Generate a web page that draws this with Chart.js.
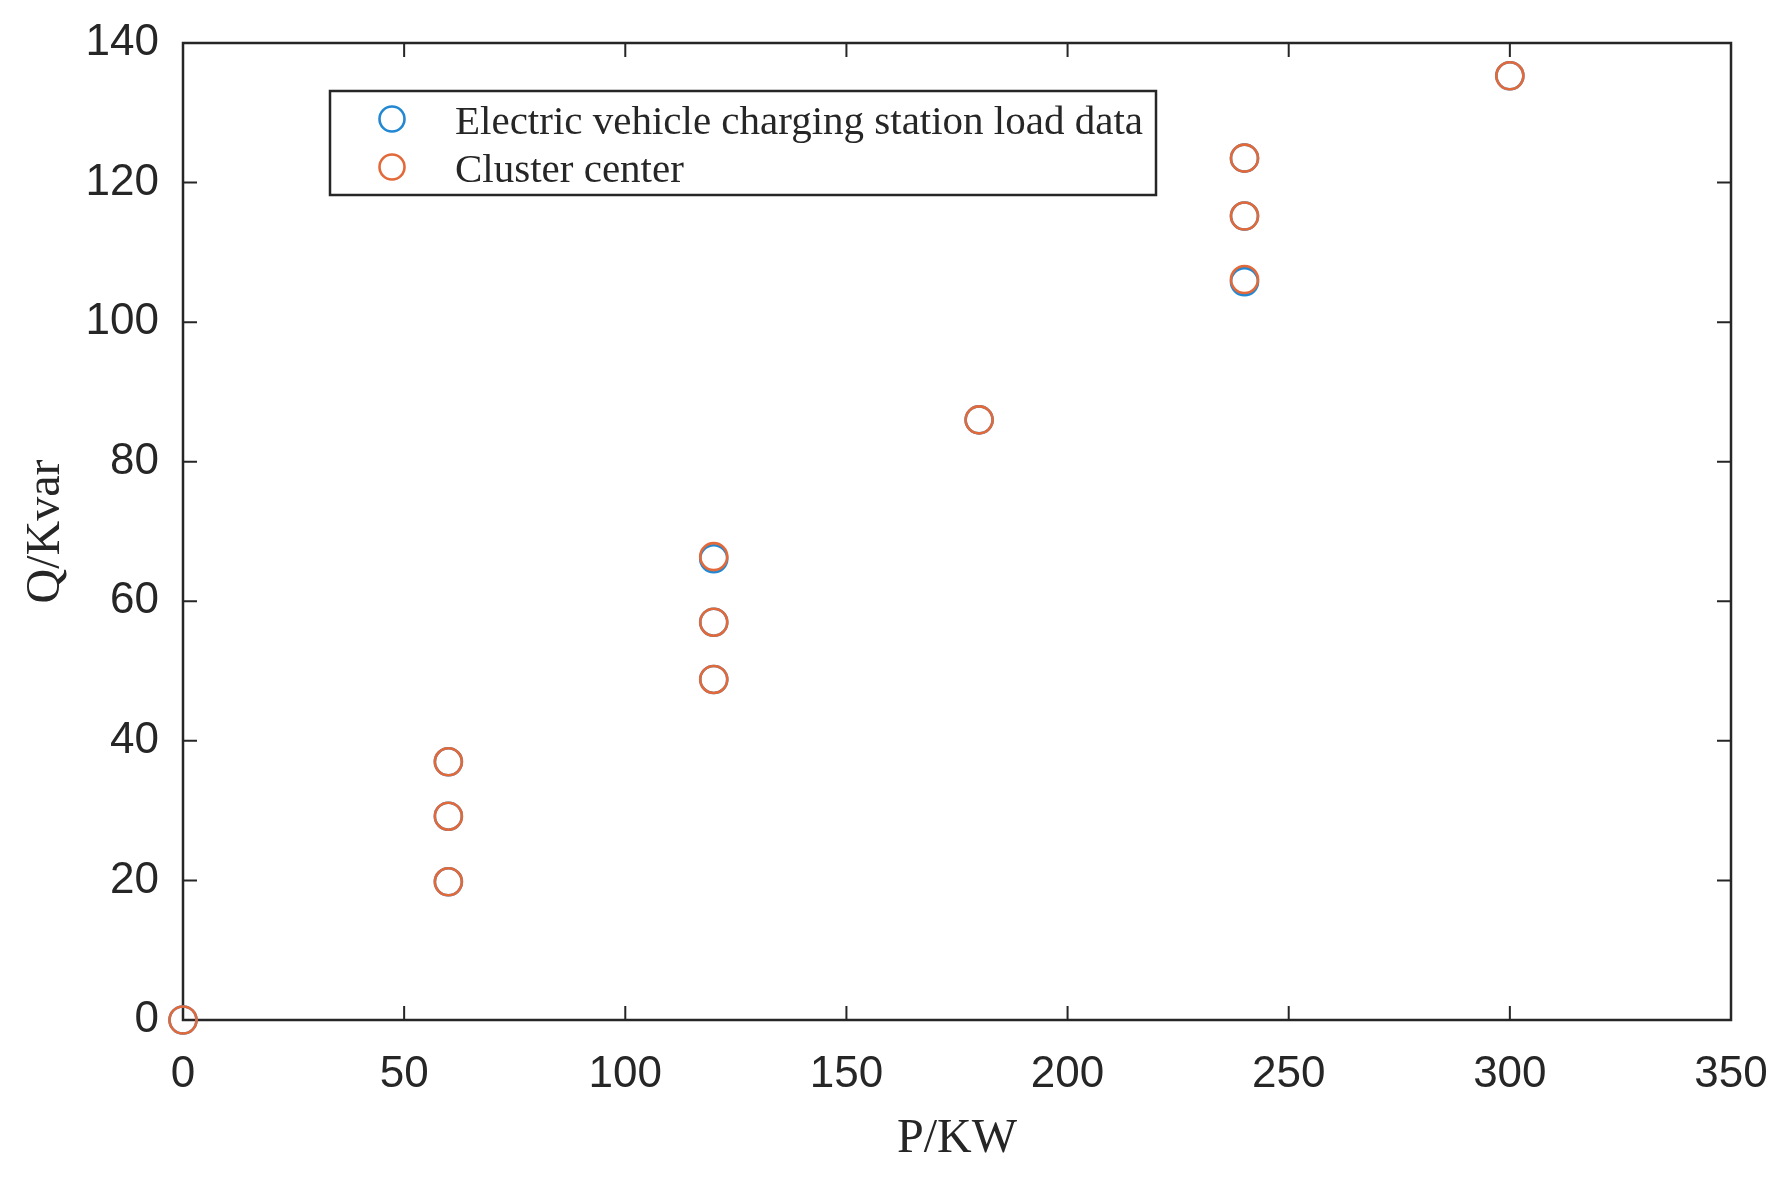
<!DOCTYPE html>
<html>
<head>
<meta charset="utf-8">
<script src="https://cdn.jsdelivr.net/npm/chart.js@4.4.0/dist/chart.umd.min.js"></script>
<style>
  html, body { margin: 0; padding: 0; background: #fff; }
  #wrap { width: 1788px; height: 1187px; }
</style>
</head>
<body>
<div id="wrap"><canvas id="scatterChart" width="1788" height="1187"></canvas></div>
<script>
// values
var pValues = [0, 60, 60, 60, 120, 120, 120, 180, 240, 240, 240, 300];
var loadQ = [0, 19.8, 29.2, 37.0, 48.8, 57.0, 66.1, 86.0, 105.8, 115.2, 123.5, 135.3];
var centerQ = [0, 19.8, 29.2, 37.0, 48.8, 57.0, 66.4, 86.0, 106.1, 115.2, 123.5, 135.3];
var xTicks = [0, 50, 100, 150, 200, 250, 300, 350];
var yTicks = [0, 20, 40, 60, 80, 100, 120, 140];
var seriesNames = ['Electric vehicle charging station load data', 'Cluster center'];

var axisColor = '#262626';
var blue = '#2388d2';
var orange = '#e2693a';

function toPoints(xs, ys) {
  var pts = [];
  for (var i = 0; i < xs.length; i++) pts.push({ x: xs[i], y: ys[i] });
  return pts;
}

// box round the plot plus inward tick marks on all four sides
var axesBox = {
  id: 'axesBox',
  beforeDatasetsDraw: function (chart) {
    var ctx = chart.ctx, a = chart.chartArea;
    var xs = chart.scales.x, ys = chart.scales.y;
    var len = 14;
    ctx.save();
    ctx.strokeStyle = axisColor;
    ctx.lineWidth = 2.5;
    ctx.strokeRect(a.left, a.top, a.right - a.left, a.bottom - a.top);
    ctx.lineWidth = 2;
    ctx.beginPath();
    xTicks.forEach(function (v) {
      var px = xs.getPixelForValue(v);
      ctx.moveTo(px, a.bottom); ctx.lineTo(px, a.bottom - len);
      ctx.moveTo(px, a.top); ctx.lineTo(px, a.top + len);
    });
    yTicks.forEach(function (v) {
      var py = ys.getPixelForValue(v);
      ctx.moveTo(a.left, py); ctx.lineTo(a.left + len, py);
      ctx.moveTo(a.right, py); ctx.lineTo(a.right - len, py);
    });
    ctx.stroke();
    ctx.restore();
  }
};

// legend box inside the plot, upper left
var boxLegend = {
  id: 'boxLegend',
  afterDraw: function (chart) {
    var ctx = chart.ctx;
    var bx = 330, by = 91, bw = 826, bh = 104;
    ctx.save();
    ctx.fillStyle = '#fff';
    ctx.fillRect(bx, by, bw, bh);
    ctx.strokeStyle = axisColor;
    ctx.lineWidth = 2.5;
    ctx.strokeRect(bx, by, bw, bh);
    ctx.font = '41px "Liberation Serif", "Times New Roman", serif';
    ctx.textBaseline = 'middle';
    ctx.fillStyle = axisColor;
    chart.data.datasets.forEach(function (ds, i) {
      var cy = by + 28 + i * 48;
      ctx.beginPath();
      ctx.arc(392, cy, 12.5, 0, Math.PI * 2);
      ctx.lineWidth = ds.borderWidth;
      ctx.strokeStyle = ds.borderColor;
      ctx.stroke();
      ctx.fillText(ds.label, 455, cy + 4);
    });
    ctx.restore();
  }
};

var ctx = document.getElementById('scatterChart').getContext('2d');
var scatterChart = new Chart(ctx, {
  type: 'scatter',
  data: {
    datasets: [{
      label: seriesNames[0],
      data: toPoints(pValues, loadQ),
      borderColor: blue,
      backgroundColor: 'rgba(0,0,0,0)',
      borderWidth: 2.6,
      pointRadius: 13.5,
      pointHoverRadius: 13.5,
      clip: false,
      order: 2
    }, {
      label: seriesNames[1],
      data: toPoints(pValues, centerQ),
      borderColor: orange,
      backgroundColor: 'rgba(0,0,0,0)',
      borderWidth: 2.6,
      pointRadius: 13.5,
      pointHoverRadius: 13.5,
      clip: false,
      order: 1
    }]
  },
  options: {
    responsive: false,
    animation: false,
    devicePixelRatio: 1,
    layout: { padding: { top: 43, right: 57, left: 0, bottom: 0 } },
    plugins: {
      legend: { display: false },
      tooltip: { enabled: false }
    },
    scales: {
      x: {
        type: 'linear',
        min: 0,
        max: 350,
        afterBuildTicks: function (scale) {
          scale.ticks = xTicks.map(function (v) { return { value: v }; });
        },
        afterFit: function (scale) {
          scale.height = 167;
          scale.paddingLeft = 0;
          scale.paddingRight = 0;
        },
        grid: { display: false, drawTicks: false },
        border: { display: false },
        ticks: {
          color: axisColor,
          padding: 28,
          maxRotation: 0,
          font: { family: '"Liberation Sans", Arial, sans-serif', size: 44 }
        },
        title: {
          display: true,
          text: 'P/KW',
          color: axisColor,
          padding: { top: 0, bottom: 19 },
          font: { family: '"Liberation Serif", "Times New Roman", serif', size: 48 }
        }
      },
      y: {
        type: 'linear',
        min: 0,
        max: 140,
        afterBuildTicks: function (scale) {
          scale.ticks = yTicks.map(function (v) { return { value: v }; });
        },
        afterFit: function (scale) {
          scale.width = 183;
          scale.paddingTop = 0;
          scale.paddingBottom = 0;
        },
        grid: { display: false, drawTicks: false },
        border: { display: false },
        ticks: {
          color: axisColor,
          padding: 24,
          font: { family: '"Liberation Sans", Arial, sans-serif', size: 44 }
        },
        title: {
          display: true,
          text: 'Q/Kvar',
          color: axisColor,
          padding: { top: 18, bottom: 0 },
          font: { family: '"Liberation Serif", "Times New Roman", serif', size: 48 }
        }
      }
    }
  },
  plugins: [axesBox, boxLegend]
});
</script>
</body>
</html>
